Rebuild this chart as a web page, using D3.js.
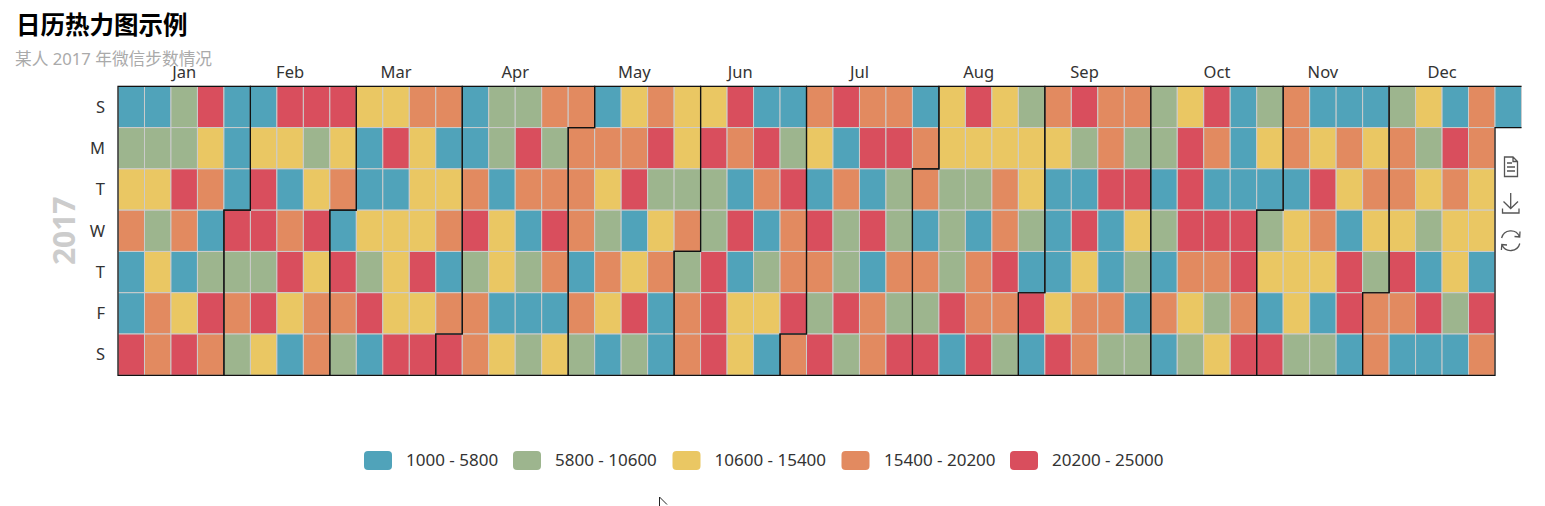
<!DOCTYPE html>
<html>
<head>
<meta charset="utf-8">
<style>
  html, body { margin: 0; background: #fff; }
  text { font-family: "Noto Sans", "Noto Sans CJK SC", sans-serif; }
</style>
<script src="https://cdnjs.cloudflare.com/ajax/libs/d3/7.8.5/d3.min.js"></script>
</head>
<body>
<div id="chart"></div>
<script>
// steps per day, one array per weekday, one entry per week
// (only the band can be read, so each value is the middle of its band)
const sundays = [3400,3400,8200,22600,3400,3400,22600,22600,22600,13000,13000,17800,17800,
  3400,8200,8200,17800,17800,3400,13000,17800,13000,13000,22600,3400,3400,
  17800,22600,17800,17800,3400,13000,22600,13000,8200,17800,22600,17800,17800,
  8200,13000,22600,3400,8200,17800,3400,3400,3400,8200,13000,3400,17800,3400];
const mondays = [8200,8200,8200,13000,3400,13000,13000,8200,13000,3400,22600,13000,3400,
  3400,8200,22600,8200,17800,17800,17800,22600,13000,22600,17800,22600,8200,
  13000,3400,22600,22600,17800,13000,13000,13000,13000,13000,8200,17800,8200,
  8200,22600,17800,3400,13000,17800,13000,17800,13000,17800,8200,22600,17800];
const tuesdays = [13000,13000,22600,17800,3400,22600,3400,13000,17800,3400,3400,13000,13000,
  17800,3400,17800,17800,17800,13000,22600,8200,8200,8200,3400,17800,22600,
  3400,17800,3400,8200,17800,8200,8200,17800,13000,3400,3400,22600,22600,
  3400,22600,3400,3400,3400,3400,22600,13000,17800,17800,13000,17800,13000];
const wednesdays = [17800,8200,17800,3400,22600,22600,17800,22600,3400,13000,13000,13000,17800,
  22600,13000,3400,22600,17800,8200,3400,13000,17800,8200,22600,3400,17800,
  22600,8200,22600,8200,3400,8200,3400,17800,8200,3400,22600,3400,13000,
  8200,22600,22600,22600,8200,13000,17800,3400,13000,13000,8200,13000,13000];
const thursdays = [3400,13000,3400,8200,8200,8200,22600,13000,22600,8200,13000,22600,3400,
  8200,13000,8200,17800,3400,17800,13000,17800,8200,22600,3400,8200,17800,
  17800,8200,3400,17800,17800,8200,17800,22600,3400,3400,13000,3400,8200,
  3400,17800,17800,22600,13000,13000,13000,22600,8200,22600,3400,13000,3400];
const fridays = [3400,17800,13000,22600,17800,22600,13000,17800,17800,22600,13000,13000,17800,
  17800,3400,3400,3400,17800,13000,22600,3400,17800,22600,13000,13000,22600,
  8200,22600,17800,8200,8200,22600,17800,17800,22600,13000,17800,17800,3400,
  17800,13000,8200,17800,3400,13000,3400,22600,17800,17800,22600,8200,22600];
const saturdays = [22600,17800,22600,17800,8200,13000,3400,17800,8200,3400,22600,22600,22600,
  17800,13000,8200,13000,8200,3400,8200,3400,17800,22600,13000,3400,17800,
  22600,8200,17800,22600,22600,3400,22600,8200,3400,22600,17800,8200,8200,
  3400,8200,13000,22600,22600,8200,8200,3400,17800,3400,3400,3400,17800];

const weekdayLabels = ['S', 'M', 'T', 'W', 'T', 'F', 'S'];
const monthLabels = ['Jan', 'Feb', 'Mar', 'Apr', 'May', 'Jun', 'Jul', 'Aug', 'Sep', 'Oct', 'Nov', 'Dec'];
const legendLabels = ['1000 - 5800', '5800 - 10600', '10600 - 15400', '15400 - 20200', '20200 - 25000'];
const bandColors = ['#50a3ba', '#9db58e', '#eac763', '#e28a60', '#d94e5d'];
const stepExtent = [1000, 25000];
const year = 2017;

const width = 1545;
const height = 506;
const grid = { left: 118, right: 1521.5, top: 86.3, bottom: 375.3 };
const legendX = [364, 513, 672.5, 841.5, 1010];

const yearStart = new Date(year, 0, 1);
const yearEnd = new Date(year + 1, 0, 1);
const days = d3.timeDays(yearStart, yearEnd);
const byWeekday = [sundays, mondays, tuesdays, wednesdays, thursdays, fridays, saturdays];

const weekOf = d => d3.timeSunday.count(yearStart, d);

const x = d3.scaleLinear().domain([0, weekOf(days[days.length - 1]) + 1]).range([grid.left, grid.right]);
const y = d3.scaleBand().domain(d3.range(7)).range([grid.top, grid.bottom]);
const color = d3.scaleQuantize().domain(stepExtent).range(bandColors);

const svg = d3.select('#chart').append('svg')
  .attr('width', width)
  .attr('height', height)
  .style('display', 'block');

// cells
svg.append('g').selectAll('rect')
  .data(days)
  .join('rect')
  .attr('x', d => x(weekOf(d)))
  .attr('y', d => y(d.getDay()))
  .attr('width', x(1) - x(0))
  .attr('height', y.bandwidth())
  .attr('fill', d => color(byWeekday[d.getDay()][weekOf(d)]))
  .attr('stroke', '#ccc')
  .attr('stroke-width', 1);

// month outlines, stepped where the month does not start on a Sunday
// the reference leaves the right end of the last month open
function monthOutline(first, last, isLast) {
  const w0 = weekOf(first), w1 = weekOf(last);
  const d0 = first.getDay(), d1 = last.getDay() + 1;
  const endY = d1 === 7 ? grid.bottom : y(d1);
  const p = d3.path();
  p.moveTo(x(w1 + 1), grid.top);
  p.lineTo(x(w0 + 1), grid.top);
  p.lineTo(x(w0 + 1), y(d0));
  p.lineTo(x(w0), y(d0));
  p.lineTo(x(w0), grid.bottom);
  p.lineTo(x(w1), grid.bottom);
  p.lineTo(x(w1), endY);
  p.lineTo(x(w1 + 1), endY);
  if (!isLast) p.closePath();
  return p.toString();
}

const months = d3.timeMonths(yearStart, yearEnd);
const monthEnd = m => d3.timeDay.offset(d3.timeMonth.offset(m, 1), -1);

svg.append('g').selectAll('path')
  .data(months)
  .join('path')
  .attr('d', (m, i) => monthOutline(m, monthEnd(m), i === months.length - 1))
  .attr('fill', 'none')
  .attr('stroke', '#111')
  .attr('stroke-width', 1.2);

// month labels
svg.append('g').selectAll('text')
  .data(months)
  .join('text')
  .attr('x', m => x((weekOf(m) + weekOf(monthEnd(m)) + 1) / 2))
  .attr('y', 78)
  .attr('text-anchor', 'middle')
  .attr('font-size', 16.5)
  .attr('fill', '#333')
  .text((m, i) => monthLabels[i]);

// weekday labels
svg.append('g').selectAll('text')
  .data(weekdayLabels)
  .join('text')
  .attr('x', 105)
  .attr('y', (d, i) => y(i) + y.bandwidth() / 2)
  .attr('dy', '0.35em')
  .attr('text-anchor', 'end')
  .attr('font-size', 16.5)
  .attr('fill', '#333')
  .text(d => d);

// year label
svg.append('text')
  .attr('transform', `translate(75,${(grid.top + grid.bottom) / 2}) rotate(-90)`)
  .attr('text-anchor', 'middle')
  .attr('font-size', 30)
  .attr('font-weight', 'bold')
  .attr('fill', '#ccc')
  .text(year);

// title
svg.append('text')
  .attr('x', 16)
  .attr('y', 34)
  .attr('font-size', 24.5)
  .attr('font-weight', 'bold')
  .attr('fill', '#000')
  .text('日历热力图示例');

svg.append('text')
  .attr('x', 15)
  .attr('y', 65)
  .attr('font-size', 16.7)
  .attr('fill', '#aaa')
  .text('某人 2017 年微信步数情况');

// legend
const legend = svg.append('g').selectAll('g')
  .data(legendLabels)
  .join('g')
  .attr('transform', (d, i) => `translate(${legendX[i]},451)`);

legend.append('rect')
  .attr('width', 28)
  .attr('height', 19)
  .attr('rx', 4)
  .attr('fill', (d, i) => bandColors[i]);

legend.append('text')
  .attr('x', (d, i) => i === 3 ? 42.5 : 42)
  .attr('y', 15)
  .attr('font-size', 17)
  .attr('fill', '#333')
  .text(d => d);

// toolbox icons
const toolbox = svg.append('g')
  .attr('fill', 'none')
  .attr('stroke', '#555')
  .attr('stroke-width', 1.3);

toolbox.append('path')
  .attr('d', 'M1504.5 157H1513L1517.5 161.5V176.5H1504.5Z M1513 157V161.5H1517.5 M1507 163H1512 M1507 167H1515 M1507 171H1515');
toolbox.append('path')
  .attr('d', 'M1510.7 193V208 M1503.5 201.5L1510.7 208.5L1518 201.5 M1502.5 208.5V213H1519V208.5');
toolbox.append('path')
  .attr('d', 'M1501.6 238A9.5 9.5 0 0 1 1519.5 236.5 M1519.8 243.5A9.5 9.5 0 0 1 1502 245 M1520 231.5L1519.7 237L1514.5 236.5 M1501.4 250L1501.8 244.5L1507 245');

// mouse pointer caught in the screenshot
svg.append('path')
  .attr('d', 'M659.5 497V506 M659.5 497L667 504.5')
  .attr('fill', 'none')
  .attr('stroke', '#222')
  .attr('stroke-width', 1);
</script>
</body>
</html>
